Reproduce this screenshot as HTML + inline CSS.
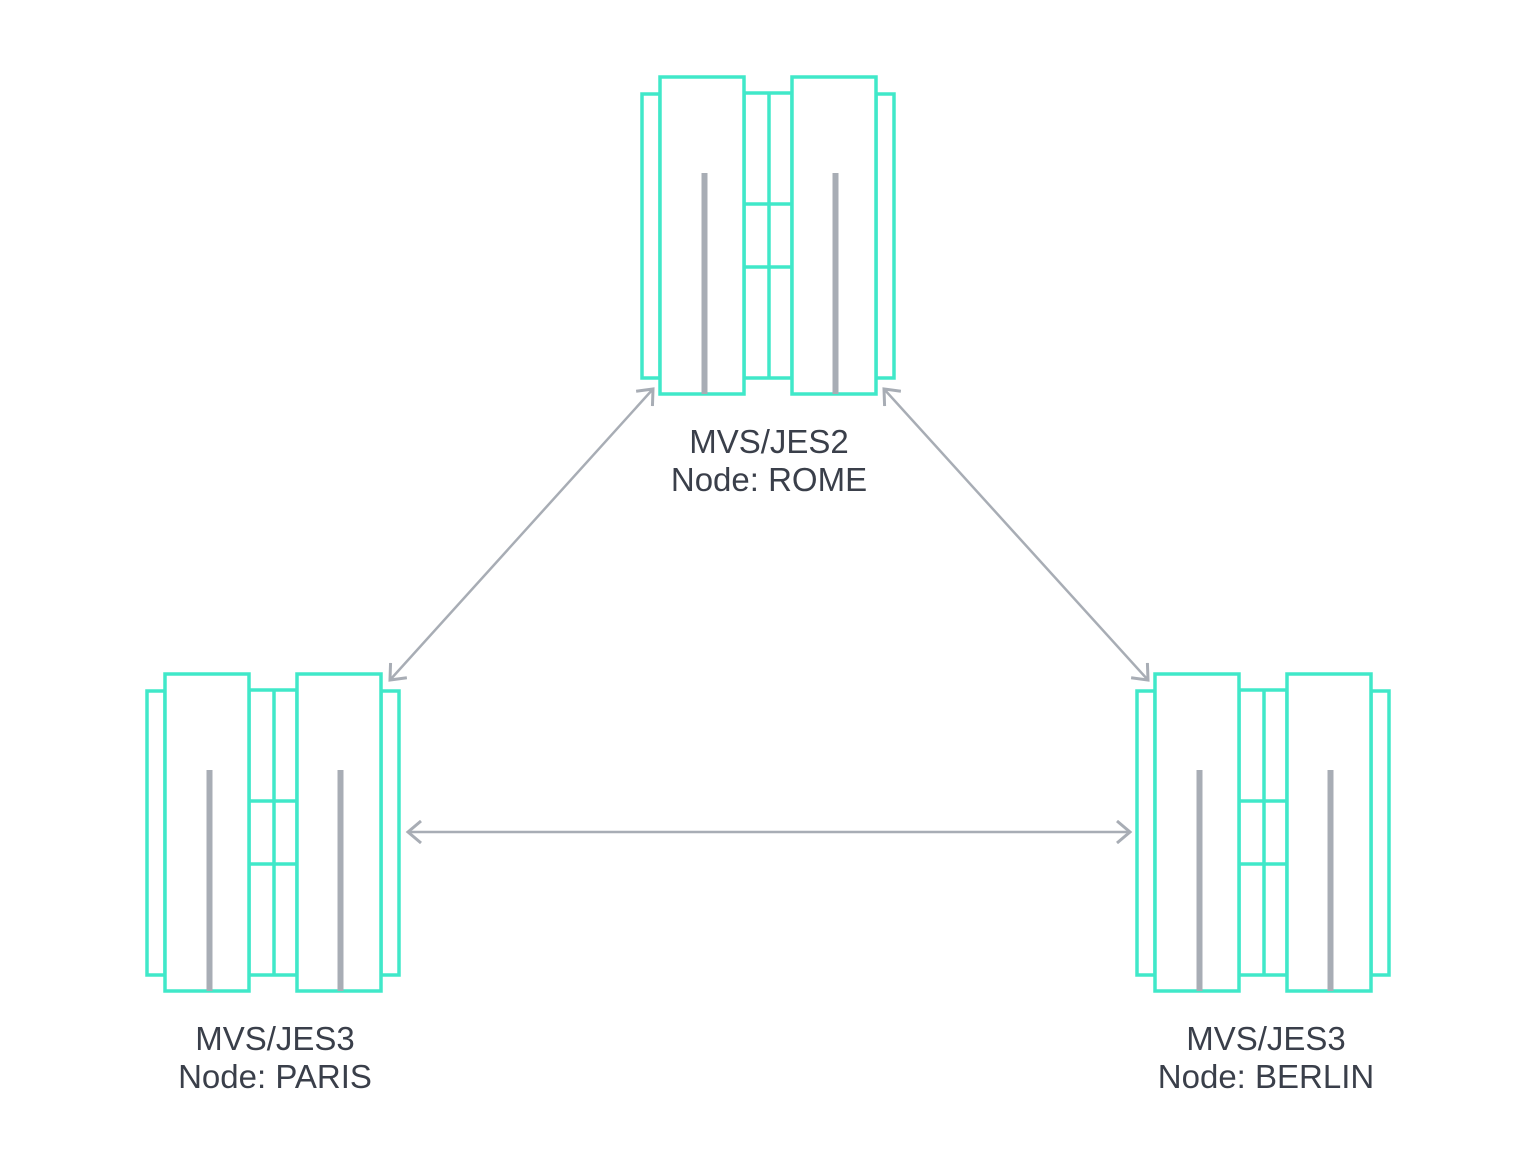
<!DOCTYPE html>
<html><head><meta charset="utf-8"><style>
html,body{margin:0;padding:0;background:#fff;}
svg{display:block;}
text{font-family:"Liberation Sans",sans-serif;font-size:33px;fill:#3a3f4a;text-anchor:middle;}
</style></head><body>
<svg width="1536" height="1170" viewBox="0 0 1536 1170" xmlns="http://www.w3.org/2000/svg">
<defs>
<g id="node" fill="none">
  <rect x="0" y="17" width="18" height="284" stroke="#40e8c9" stroke-width="3.5"/>
  <rect x="234" y="17" width="18" height="284" stroke="#40e8c9" stroke-width="3.5"/>
  <rect x="102" y="16" width="48" height="285" stroke="#40e8c9" stroke-width="3.5"/>
  <line x1="127" y1="16" x2="127" y2="301" stroke="#40e8c9" stroke-width="3.5"/>
  <line x1="102" y1="127" x2="150" y2="127" stroke="#40e8c9" stroke-width="3.5"/>
  <line x1="102" y1="190" x2="150" y2="190" stroke="#40e8c9" stroke-width="3.5"/>
  <rect x="18" y="0" width="84" height="317" fill="#fff" stroke="#40e8c9" stroke-width="3.5"/>
  <rect x="150" y="0" width="84" height="317" fill="#fff" stroke="#40e8c9" stroke-width="3.5"/>
  <rect x="59.5" y="96" width="6" height="221" fill="#a8adb5"/>
  <rect x="190.5" y="96" width="6" height="221" fill="#a8adb5"/>
</g>
<marker id="ah" viewBox="0 0 20 24" refX="17" refY="12" markerWidth="20" markerHeight="24" markerUnits="userSpaceOnUse" orient="auto-start-reverse">
  <path d="M4,1 L17,12 L4,23" fill="none" stroke="#a8adb5" stroke-width="3"/>
</marker>
</defs>
<use href="#node" x="642" y="77"/>
<use href="#node" x="147" y="674"/>
<use href="#node" x="1137" y="674"/>
<g stroke="#a8adb5" stroke-width="2.5" fill="none">
  <line x1="653" y1="389" x2="390" y2="680" marker-start="url(#ah)" marker-end="url(#ah)"/>
  <line x1="884" y1="389" x2="1148" y2="680" marker-start="url(#ah)" marker-end="url(#ah)"/>
  <line x1="408" y1="832" x2="1130" y2="832" marker-start="url(#ah)" marker-end="url(#ah)"/>
</g>
<text x="769" y="453">MVS/JES2</text>
<text x="769" y="491">Node: ROME</text>
<text x="275" y="1050">MVS/JES3</text>
<text x="275" y="1088">Node: PARIS</text>
<text x="1266" y="1050">MVS/JES3</text>
<text x="1266" y="1088">Node: BERLIN</text>
</svg>
</body></html>
